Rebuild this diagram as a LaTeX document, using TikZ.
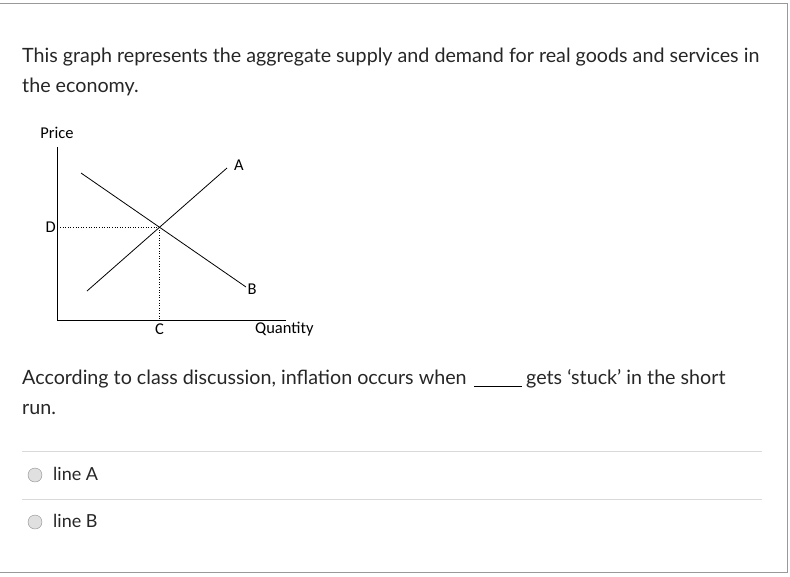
\documentclass[tikz,border=0pt]{standalone}
\usepackage{fontspec}
\setmainfont{Lato}
\newfontfamily\graphfont{Carlito}
\usetikzlibrary{positioning,calc,intersections}

\begin{document}
\begin{tikzpicture}[x=1pt,y=-1pt,
  qtext/.style = {anchor = base west, inner sep = 0, font = \fontsize{19.7}{30}\selectfont, text = black!85},
  atext/.style = {anchor = west, inner sep = 0, font = \fontsize{18}{30}\selectfont, text = black!85},
  glabel/.style = {font = \graphfont\fontsize{16.5}{18}\selectfont, inner sep = 1},
  curve/.style = {line width = .8pt},
  guide/.style = {dotted, line width = .6pt},
  sepline/.style = {draw = black!15, line width = .8pt},
  radio/.style = {circle, minimum size = 14, inner sep = 0, draw = black!45, fill = black!12}]
\useasboundingbox (0,0) rectangle (790,576);
% Page frame
\draw[black!40, line width = 1pt] (0,3) -- (787,3) -- (787,572) -- (0,572);
% Question text
\node[qtext] (intro1) at (22,62) {This graph represents the aggregate supply and demand for real goods and services in};
\node[qtext] (intro2) at (22,92) {the economy.};
% Axes
\coordinate (origin) at (57,320);
\coordinate (ytop) at (57,147);
\coordinate (xend) at (286,320);
\draw[line width = .8pt] (ytop) -- (origin) -- (xend);
\node[glabel] (price) at (57,133) {Price};
\node[glabel, anchor = north west] (quantity) at (254,321) {Quantity};
% Lines A and B
\coordinate (a0) at (87,291);
\coordinate (a1) at (227,168);
\coordinate (b0) at (81,173);
\coordinate (b1) at (246,287);
\draw[curve, name path = lineA] (a0) -- (a1);
\draw[curve, name path = lineB] (b0) -- (b1);
\node[glabel] (labA) at (239,165) {A};
\node[glabel] (labB) at (252,289) {B};
% Equilibrium guides
\path[name intersections = {of = lineA and lineB, by = eq}];
\coordinate (dpt) at (origin |- eq);
\coordinate (cpt) at (origin -| eq);
\draw[guide] (dpt) ++(3,0) -- (eq);
\draw[guide] (eq) -- (cpt);
\node[glabel, anchor = east] (labD) at (dpt) {D};
\node[glabel, anchor = north] (labC) at ([yshift=-3pt]cpt) {C};
% Question
\node[qtext] (ask1) at (22,384) {According to class discussion, inflation occurs when};
\coordinate (blank0) at (474,386);
\coordinate (blank1) at (522,386);
\draw[line width = .6pt] (blank0) -- (blank1);
\node[qtext] (ask2) at (526,384) {gets ‘stuck’ in the short};
\node[qtext] (ask3) at (22,414) {run.};
% Answers
\coordinate (sep0) at (22,451);
\coordinate (sep1) at (762,451);
\coordinate (sep2) at (22,499);
\coordinate (sep3) at (762,499);
\draw[sepline] (sep0) -- (sep1);
\draw[sepline] (sep2) -- (sep3);
\node[radio] (optA) at (35,475) {};
\node[radio] (optB) at (35,522) {};
\node[atext] (ansA) at (53,474) {line A};
\node[atext] (ansB) at (53,521) {line B};
\end{tikzpicture}
\end{document}
